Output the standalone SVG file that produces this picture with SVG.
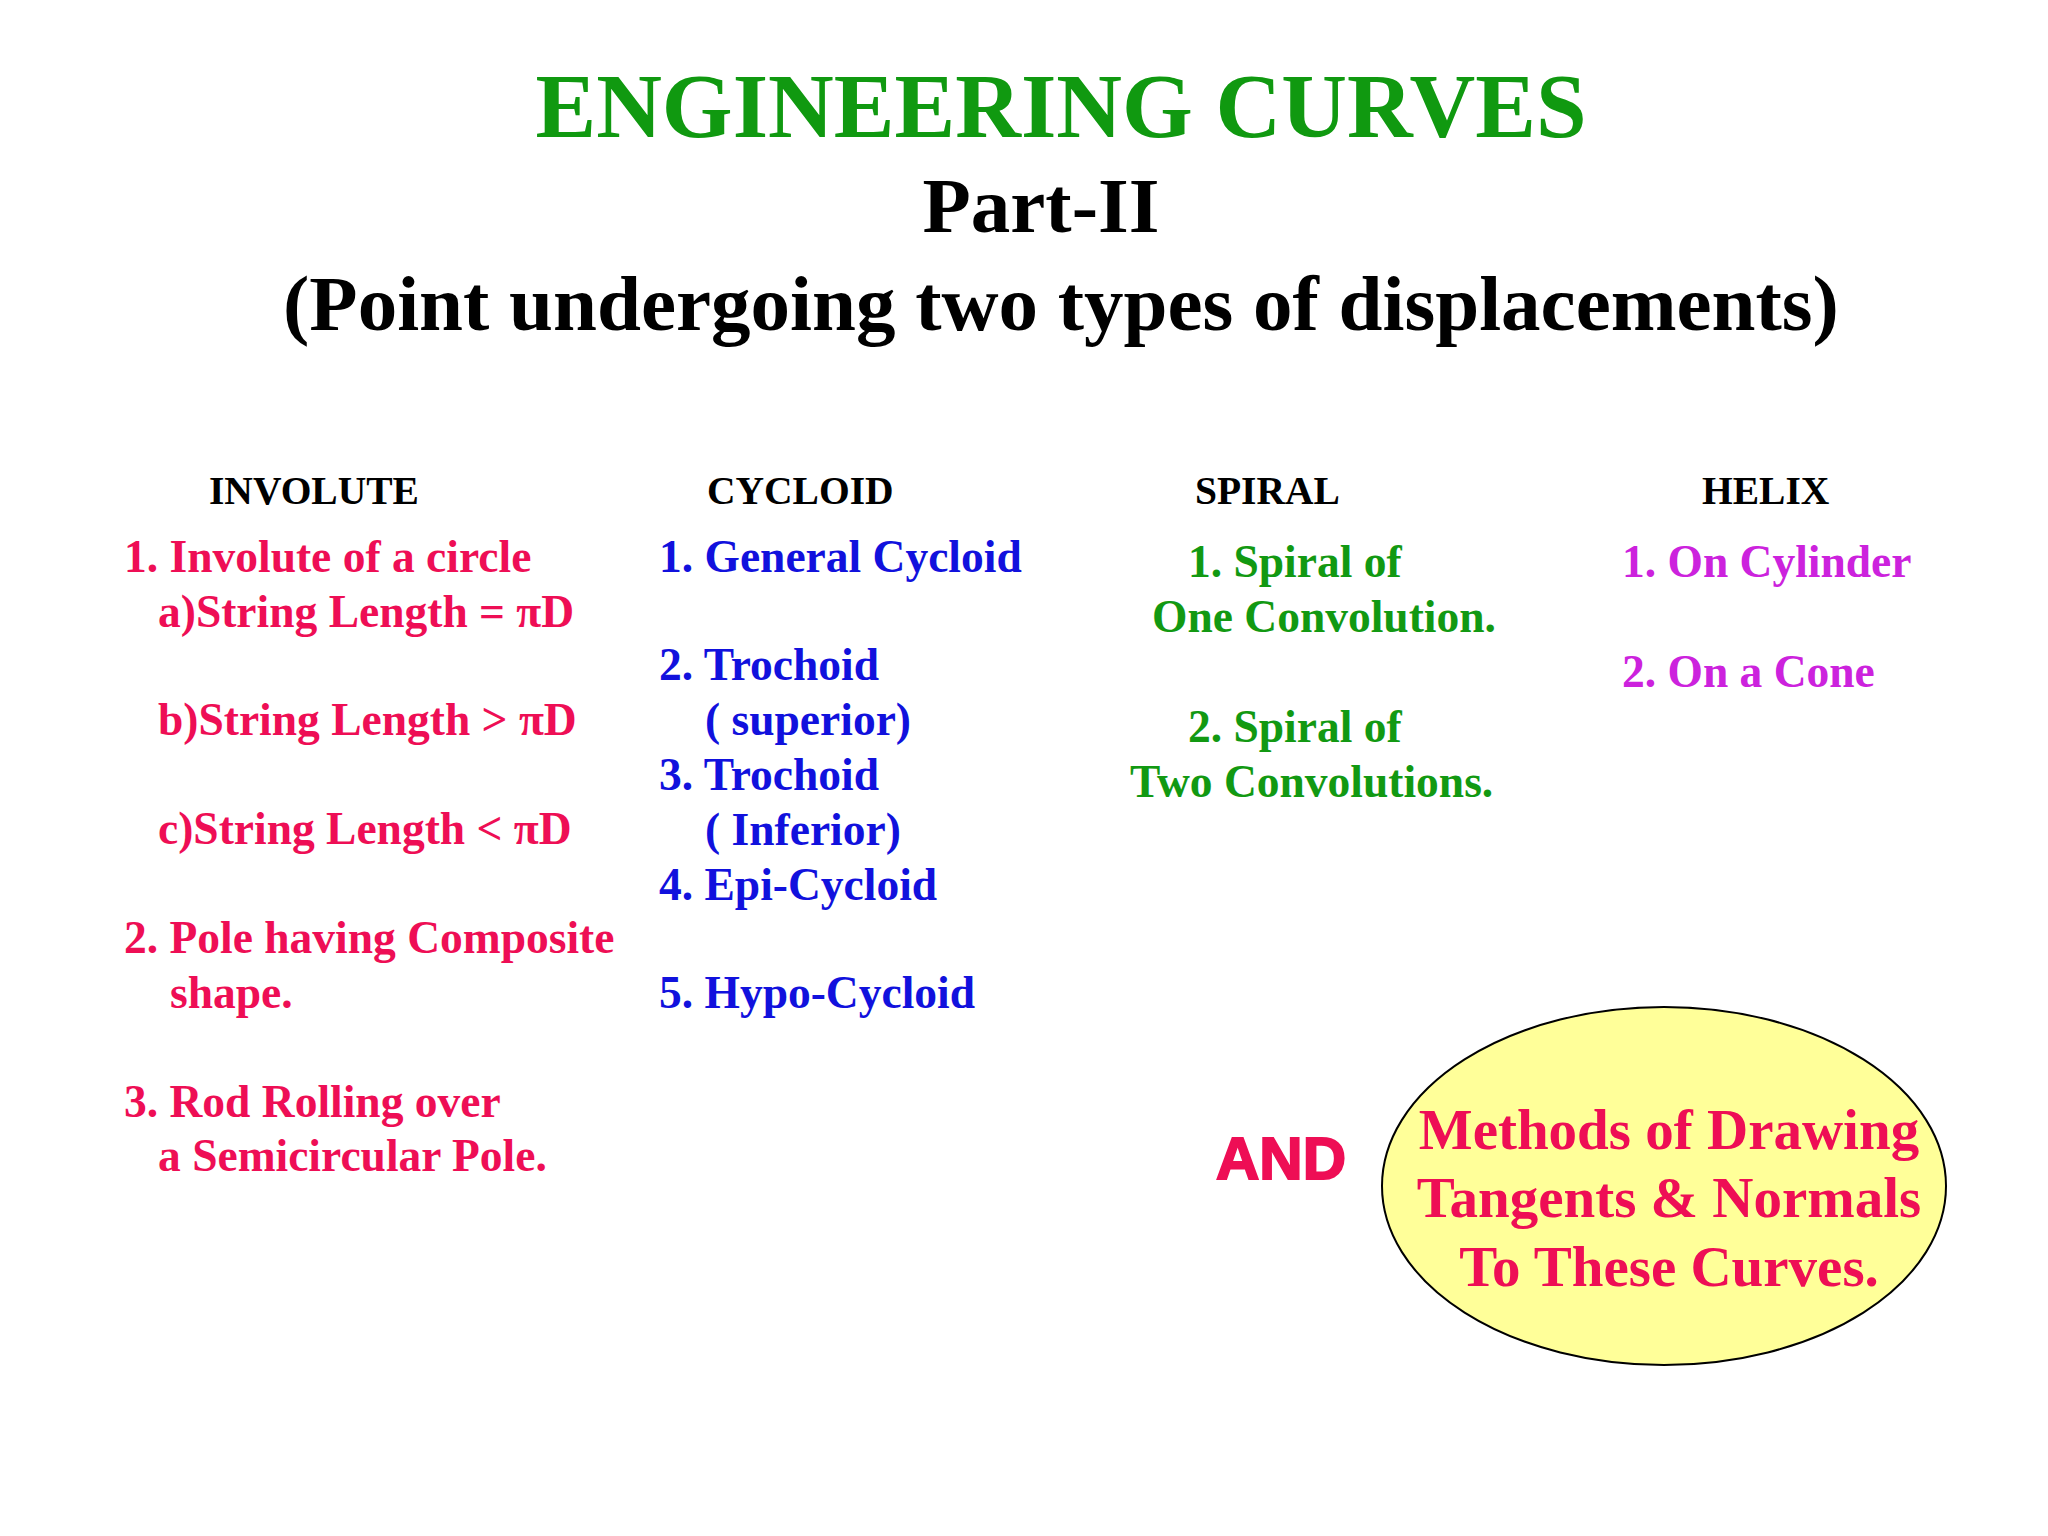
<svg xmlns="http://www.w3.org/2000/svg" width="2048" height="1536" viewBox="0 0 2048 1536">
<style>
text{font-family:"Liberation Serif",serif;font-weight:bold}
.h{font-size:39.5px;fill:#000}
.r{font-size:45.5px;fill:#ee0e55}
.b{font-size:45.5px;fill:#1111dd}
.g{font-size:45.5px;fill:#129912}
.m{font-size:45.5px;fill:#cc22dd}
.e{font-size:57px;fill:#ee0e55;text-anchor:middle}
.s{font-family:"Liberation Sans",Arial,sans-serif;font-size:60px;fill:#ee0e55;stroke:#ee0e55;stroke-width:2}
</style>
<rect width="2048" height="1536" fill="#fff"/>
<g id="title">
<text x="1061" y="137" text-anchor="middle" font-size="91" fill="#109910">ENGINEERING CURVES</text>
<text x="1041" y="232" text-anchor="middle" font-size="79" fill="#000">Part-II</text>
<text x="1061" y="330" text-anchor="middle" font-size="79" fill="#000">(Point undergoing two types of displacements)</text>
</g>
<g id="involute">
<text class="h" x="209" y="504">INVOLUTE</text>
<text class="r" x="124" y="572">1. Involute of a circle</text>
<text class="r" x="158" y="627">a)String Length = πD</text>
<text class="r" x="158" y="735">b)String Length &gt; πD</text>
<text class="r" x="158" y="844">c)String Length &lt; πD</text>
<text class="r" x="124" y="953">2. Pole having Composite</text>
<text class="r" x="170" y="1008">shape.</text>
<text class="r" x="124" y="1117">3. Rod Rolling over</text>
<text class="r" x="158" y="1171">a Semicircular Pole.</text>
</g>
<g id="cycloid">
<text class="h" x="707" y="504">CYCLOID</text>
<text class="b" x="659" y="572">1. General Cycloid</text>
<text class="b" x="659" y="680">2. Trochoid</text>
<text class="b" x="705" y="735">( superior)</text>
<text class="b" x="659" y="790">3. Trochoid</text>
<text class="b" x="705" y="845">( Inferior)</text>
<text class="b" x="659" y="900">4. Epi-Cycloid</text>
<text class="b" x="659" y="1008">5. Hypo-Cycloid</text>
</g>
<g id="spiral">
<text class="h" x="1195" y="504">SPIRAL</text>
<text class="g" x="1188" y="577">1. Spiral of</text>
<text class="g" x="1152" y="632">One Convolution.</text>
<text class="g" x="1188" y="742">2. Spiral of</text>
<text class="g" x="1130" y="797">Two Convolutions.</text>
</g>
<g id="helix">
<text class="h" x="1702" y="504">HELIX</text>
<text class="m" x="1622" y="577">1. On Cylinder</text>
<text class="m" x="1622" y="687">2. On a Cone</text>
</g>
<g id="and">
<text class="s" x="1216" y="1179">AND</text>
</g>
<g id="methods">
<ellipse cx="1664" cy="1186" rx="282" ry="179" fill="#ffff99" stroke="#000" stroke-width="2"/>
<text class="e" x="1669" y="1149">Methods of Drawing</text>
<text class="e" x="1669" y="1217">Tangents &amp; Normals</text>
<text class="e" x="1669" y="1286">To These Curves.</text>
</g>
<g id="connectors"/>
</svg>
